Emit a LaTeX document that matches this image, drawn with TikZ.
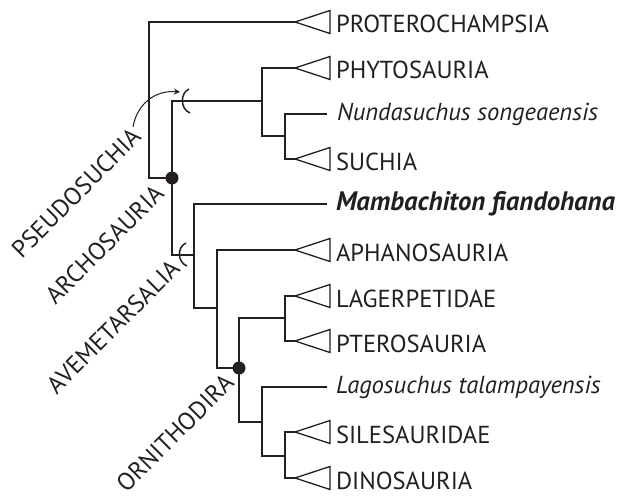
\documentclass[tikz,border=0pt]{standalone}
\usepackage{fontspec}
\setmainfont{PT Sans}
\usetikzlibrary{arrows}
\definecolor{ink}{HTML}{231F20}

\begin{document}
\begin{tikzpicture}[x=0.2mm,y=-0.2mm,line width=0.4mm,color=ink,
  clade/.style={line width=0.26mm},
  taxon/.style={anchor=base west,inner sep=0,font=\fontsize{14}{14}\selectfont},
  group/.style={anchor=base east,inner sep=0,rotate=45,font=\fontsize{14}{14}\selectfont}]
\useasboundingbox (0,0) rectangle (637,503);

% 末端
\coordinate (protoT) at (295,22);
\coordinate (phytoT) at (295,68);
\coordinate (nundE) at (327,114);
\coordinate (suchT) at (295,159);
\coordinate (mambE) at (327,204);
\coordinate (aphaT) at (295,250);
\coordinate (lagerT) at (295,296);
\coordinate (pteroT) at (295,341);
\coordinate (lagoE) at (327,387);
\coordinate (sileT) at (295,432);
\coordinate (dinoT) at (295,478);

% 内部节点
\coordinate (base) at (149,178);
\coordinate (arch) at (172,178);
\coordinate (pseudo) at (262,101);
\coordinate (n1) at (285,136);
\coordinate (aveme) at (194,255);
\coordinate (n2) at (217,308);
\coordinate (orni) at (239,368);
\coordinate (n3) at (285,318);
\coordinate (n4) at (262,422);
\coordinate (n5) at (285,456);

\draw (protoT) -| (base) -- (arch);
\draw (arch) |- (pseudo);
\draw (phytoT) -| (pseudo) |- (n1);
\draw (nundE) -| (n1) |- (suchT);
\draw (arch) |- (aveme);
\draw (mambE) -| (aveme) |- (n2);
\draw (aphaT) -| (n2) |- (orni);
\draw (n3) -| (orni) |- (n4);
\draw (lagerT) -| (n3) |- (pteroT);
\draw (lagoE) -| (n4) |- (n5);
\draw (sileT) -| (n5) |- (dinoT);

\fill (arch) circle[radius=1.3mm];
\fill (orni) circle[radius=1.3mm];

% 三角
\draw[clade] (protoT) -- ++(35,-11.5) -- ++(0,23) -- cycle;
\draw[clade] (phytoT) -- ++(35,-11.5) -- ++(0,23) -- cycle;
\draw[clade] (suchT) -- ++(35,-11.5) -- ++(0,23) -- cycle;
\draw[clade] (aphaT) -- ++(35,-11.5) -- ++(0,23) -- cycle;
\draw[clade] (lagerT) -- ++(35,-11.5) -- ++(0,23) -- cycle;
\draw[clade] (pteroT) -- ++(35,-11.5) -- ++(0,23) -- cycle;
\draw[clade] (sileT) -- ++(35,-11.5) -- ++(0,23) -- cycle;
\draw[clade] (dinoT) -- ++(35,-11.5) -- ++(0,23) -- cycle;

\node[taxon] (proto) at (335,33) {PROTEROCHAMPSIA};
\node[taxon] (phyto) at (335,79) {PHYTOSAURIA};
\node[taxon] (nund) at (336,120.5) {\itshape Nundasuchus songeaensis};
\node[taxon] (such) at (335,170) {SUCHIA};
\node[taxon,font=\fontsize{15.2}{15}\selectfont] (mamb) at (335,210.5) {\bfseries\itshape Mambachiton fiandohana};
\node[taxon] (apha) at (335,261) {APHANOSAURIA};
\node[taxon] (lager) at (335,307) {LAGERPETIDAE};
\node[taxon] (ptero) at (335,352) {PTEROSAURIA};
\node[taxon] (lago) at (335,393) {\itshape Lagosuchus talampayensis};
\node[taxon] (sile) at (335,443) {SILESAURIDAE};
\node[taxon] (dino) at (335,489) {DINOSAURIA};

% 斜标签
\node[group] (pseudoL) at (143,138) {PSEUDOSUCHIA};
\node[group] (archL) at (166,195) {ARCHOSAURIA};
\node[group] (avemeL) at (182,270) {AVEMETARSALIA};
\node[group] (orniL) at (236,384) {ORNITHODIRA};

% 括号
\coordinate (brP) at (182,101);
\coordinate (brA) at (179,255);
\draw[line width=0.3mm] (189,89) .. controls (180,93) and (180,109) .. (190,113);
\draw[line width=0.3mm] (186,243) .. controls (177,247) and (177,262) .. (187,266);

\coordinate (arrS) at (133,127);
\draw[-stealth,line width=0.2mm] (arrS) .. controls (137,104) and (155,90) .. ([xshift=-0.4mm]brP|-0,92);
\end{tikzpicture}
\end{document}
